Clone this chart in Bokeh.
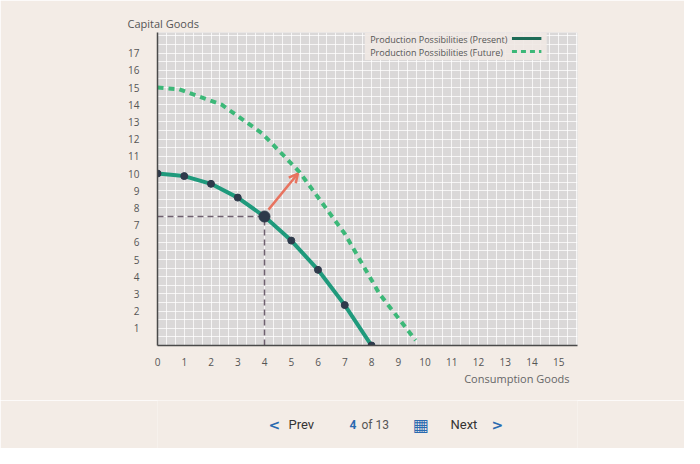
from bokeh.plotting import figure
from bokeh.models import (FixedTicker, SingleIntervalTicker, Label, Arrow, OpenHead,
                          Range1d, Title)
from bokeh.layouts import column
from bokeh.embed import file_html
from bokeh.resources import INLINE

# ---- data ----
present_x = [0, 1, 2, 3, 4, 5, 6, 7, 8]
present_y = [10, 9.85, 9.4, 8.6, 7.5, 6.1, 4.4, 2.35, 0]
future_x = [0, 0.8, 2.4, 3.9, 5.3, 7.0, 8.3, 9.65]
future_y = [15, 14.9, 14.0, 12.35, 10.1, 6.5, 3.0, 0.3]
chosen_point = (4, 7.5)
shift_arrow = ((4.15, 7.9), (5.25, 10.0))
x_ticks = list(range(0, 16))
y_ticks = list(range(1, 18))
series_names = ["Production Possibilities (Present)", "Production Possibilities (Future)"]
y_title = "Capital Goods"
x_title = "Consumption Goods"
nav_texts = ["<", "Prev", "4", "of 13", "▦", "Next", ">"]

FONT = "Open Sans"
TEAL = "#1f9a7c"
GREEN = "#3cb878"
DOT = "#2e3a4b"
BG = "#f3ece6"

p = figure(width=684, height=400, output_backend="svg", toolbar_location=None,
           x_range=Range1d(0, 15.7), y_range=Range1d(0, 18.2),
           min_border_left=157, min_border_right=107, min_border_top=32,
           min_border_bottom=55)
p.border_fill_color = BG
p.background_fill_color = "#dad8d8"
p.outline_line_color = None

p.add_layout(Title(text=y_title, align="left", offset=-30, text_font=FONT,
                   text_font_size="11px", text_font_style="normal",
                   text_color="#555555", standoff=4), "above")
p.add_layout(Title(text=x_title, align="right", offset=8, text_font=FONT,
                   text_font_size="11px", text_font_style="normal",
                   text_color="#666666", standoff=0), "below")

# grid
p.xgrid.ticker = SingleIntervalTicker(interval=0.3333333)
p.ygrid.ticker = SingleIntervalTicker(interval=0.5)
p.xgrid.grid_line_color = "white"
p.ygrid.grid_line_color = "white"
p.xgrid.grid_line_alpha = 0.75
p.ygrid.grid_line_alpha = 0.75

# axes
p.xaxis.ticker = FixedTicker(ticks=x_ticks)
p.yaxis.ticker = FixedTicker(ticks=y_ticks)
for ax in (p.xaxis[0], p.yaxis[0]):
    ax.axis_line_color = "#4a4a4a"
    ax.axis_line_width = 1.5
    ax.major_tick_line_color = None
    ax.minor_tick_line_color = None
    ax.major_label_text_font = FONT
    ax.major_label_text_font_size = "10px"
    ax.major_label_text_color = "#555555"
p.yaxis.major_label_standoff = 12
p.xaxis.major_label_standoff = 6

# reference dashed lines
p.line([0, chosen_point[0]], [chosen_point[1], chosen_point[1]], line_color="#6e5f6e",
       line_width=1.5, line_dash="6 4")
p.line([chosen_point[0], chosen_point[0]], [0, chosen_point[1]], line_color="#6e5f6e",
       line_width=1.5, line_dash="6 4")

# curves
p.line(future_x, future_y, line_color=GREEN, line_width=4, line_dash="6 5")
p.line(present_x, present_y, line_color=TEAL, line_width=4)
p.scatter(present_x, present_y, size=7, fill_color=DOT, line_color=DOT)
p.scatter([chosen_point[0]], [chosen_point[1]], size=11, fill_color=DOT, line_color=DOT)

# arrow
p.add_layout(Arrow(end=OpenHead(line_color="#e8735f", line_width=2.5, size=9),
                   x_start=shift_arrow[0][0], y_start=shift_arrow[0][1],
                   x_end=shift_arrow[1][0], y_end=shift_arrow[1][1],
                   line_color="#e8735f", line_width=2.5))

# legend (manual, label then swatch)
p.quad(left=[7.75], right=[14.55], bottom=[16.6], top=[18.2],
       fill_color="#efe9e4", fill_alpha=0.9, line_color=None)
p.add_layout(Label(x=7.95, y=17.8, text=series_names[0], text_font=FONT,
                   text_font_size="9px", text_color="#555555", text_baseline="middle"))
p.add_layout(Label(x=7.95, y=17.05, text=series_names[1], text_font=FONT,
                   text_font_size="9px", text_color="#555555", text_baseline="middle"))
p.line([13.25, 14.35], [17.85, 17.85], line_color="#1d6b57", line_width=3)
p.line([13.25, 14.35], [17.1, 17.1], line_color=GREEN, line_width=3, line_dash="5 4")

# navigation strip (frame aligned with main frame: 157..577 px)
nav = figure(width=684, height=48, output_backend="svg", toolbar_location=None,
             x_range=Range1d(157, 577), y_range=Range1d(0, 48),
             min_border_left=157, min_border_right=107, min_border_top=0,
             min_border_bottom=0, x_axis_type=None, y_axis_type=None)
nav.border_fill_color = BG
nav.background_fill_color = BG
nav.outline_line_color = None
nav.xgrid.visible = False
nav.ygrid.visible = False
nav_x = [268, 288, 349, 361, 412, 450, 491]
nav_fonts = ["DejaVu Sans", "Roboto", "Roboto", "Roboto", "DejaVu Sans", "Roboto", "DejaVu Sans"]
nav_colors = ["#2a6ab0", "#333333", "#2a6ab0", "#555555", "#2a6ab0", "#333333", "#2a6ab0"]
nav_styles = ["bold", "normal", "bold", "normal", "normal", "normal", "bold"]
nav_sizes = ["14px", "13px", "12px", "12px", "17px", "13px", "14px"]
for t, x, f, c, s, z in zip(nav_texts, nav_x, nav_fonts, nav_colors, nav_styles, nav_sizes):
    nav.add_layout(Label(x=x, y=24, text=t, text_font=f, text_color=c, text_font_style=s,
                         text_font_size=z, text_baseline="middle"))

layout = column(p, nav, spacing=0)
open("out.html", "w").write(file_html(layout, INLINE))
